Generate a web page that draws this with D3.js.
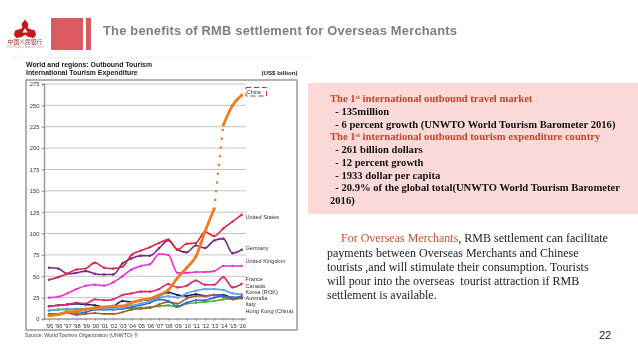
<!DOCTYPE html>
<html><head><meta charset="utf-8">
<script src="https://cdn.jsdelivr.net/npm/d3@7/dist/d3.min.js"></script>
<style>html,body{margin:0;padding:0;background:#fff;overflow:hidden}svg{display:block}</style>
</head><body><svg id="c" width="638" height="359"></svg>
<script>
const years = ["'95","'96","'97","'98","'99","'00","'01","'02","'03","'04","'05","'06","'07","'08","'09","'10","'11","'12","'13","'14","'15","'16"];
const yTicks = [0,25,50,75,100,125,150,175,200,225,250,275];
const china = [4,5,8,9,11,13,14,15,15,19,22,24,28,34,48,60,73,102,129,227,250,262];
const unitedStates = [46,49,53,58,59,66,60,59,61,75,80,84,89,93,81,88,89,102,97,106,114,122];
const germany = [60,59,53,54,56,53,52,52,65,71,74,74,83,92,81,78,86,83,92,94,77,81];
const unitedKingdom = [25,26,30,35,39,40,39,43,50,58,62,64,76,75,54,54,55,55,56,62,62,62];
const france = [15,16,17,19,18,23,22,23,28,30,32,32,35,41,37,39,45,40,40,49,37,41];
const canada = [10,11,12,11,12,12,12,12,13,16,18,21,25,27,25,30,33,35,35,34,30,29];
const korea = [6,6,8,7,8,11,11,11,12,14,16,19,23,21,15,19,22,22,25,27,25,27];
const australia = [5,5,7,5,6,7,6,6,8,11,12,13,17,20,18,24,27,27,28,26,23,25];
const italy = [15,16,17,18,17,16,14,15,21,20,22,23,27,31,28,27,29,27,28,28,25,25];
const hongKong = [10,11,11,12,12,13,13,13,12,13,13,14,15,16,14,18,19,20,21,23,24,24];
const seriesNames = ["Hong Kong (China)","Italy","Australia","Korea (ROK)","Canada","France","United Kingdom","Germany","United States"];
const seriesValues = [hongKong,italy,australia,korea,canada,france,unitedKingdom,germany,unitedStates];
const seriesColors = ["#5fa82c","#141e5c","#a0622f","#2f6cd0","#62a2e4","#dc2a68","#f02fd0","#74288f","#d82a3e"];
const labelNames = ["United States","Germany","United Kingdom","France","Canada","Korea (ROK)","Australia","Italy","Hong Kong (China)"];
const labelY = [218.5,250,262.5,281,287.5,294,300,306,312.5];
const box1 = [
 [["The 1",0],["st",1],[" international outbound travel market",0]],
 [["  - 135million",2]],
 [["  - 6 percent growth (UNWTO World Tourism Barometer 2016)",2]],
 [["The 1",0],["st",1],[" international outbound tourism expenditure country",0]],
 [["  - 261 billion dollars",2]],
 [["  - 12 percent growth",2]],
 [["  - 1933 dollar per capita",2]],
 [["  - 20.9% of the global total(UNWTO World Tourism Barometer",2]],
 [["2016)",2]]
];
const body = ["payments between Overseas Merchants and Chinese","tourists ,and will stimulate their consumption. Tourists","will pour into the overseas  tourist attraction if RMB","settlement is available."];

const svg = d3.select("#c");
const defs = svg.append("defs");
defs.append("filter").attr("id","b").append("feGaussianBlur").attr("stdDeviation",0.45);
defs.append("filter").attr("id","s").append("feGaussianBlur").attr("stdDeviation",0.25);
const sans = "'Liberation Sans',Arial,sans-serif", serif = "'Liberation Serif',serif";

// header
svg.append("rect").attr("x",51).attr("y",18).attr("width",32).attr("height",32).attr("fill","#dc5a5f");
svg.append("rect").attr("x",86).attr("y",18).attr("width",5).attr("height",32).attr("fill","#dc5a5f");
svg.append("text").attr("x",103).attr("y",35).attr("font-family",sans).attr("font-weight","bold").attr("font-size",12.9).attr("fill","#7f7f7f").attr("filter","url(#s)").attr("textLength",354).text("The benefits of RMB settlement for Overseas Merchants");
svg.append("line").attr("x1",13).attr("x2",308).attr("y1",57.5).attr("y2",57.5).attr("stroke","#f2f2f2");
const logo = svg.append("g").attr("transform","translate(25,31.5) scale(1.1)").attr("fill","#c8161d").attr("filter","url(#s)");
logo.append("path").attr("fill-rule","evenodd").attr("d","M0,-11 L3,-7 L2.5,-3 L5,-2 L9,-1 L10,3 L8,6 L3,5 L0,3 L-3,5 L-8,6 L-10,3 L-9,-1 L-5,-2 L-2.5,-3 L-3,-7 Z M0,-3 L-2.5,1 L2.5,1 Z");
svg.append("text").attr("x",25).attr("y",44).attr("text-anchor","middle").attr("font-family","'Noto Sans CJK SC'").attr("font-size",5.8).attr("fill","#a03030").attr("filter","url(#s)").text("中国人民银行");
svg.append("text").attr("x",25).attr("y",47.5).attr("text-anchor","middle").attr("font-family",sans).attr("font-size",3).attr("fill","#aaa").attr("filter","url(#s)").text("The People's Bank of China");

// chart
const x = d3.scalePoint().domain(years).range([49,241.7]);
const y = d3.scaleLinear().domain([0,275]).range([319,84]);
const g = svg.append("g").attr("filter","url(#b)");
g.append("rect").attr("x",26).attr("y",80).attr("width",271).attr("height",250).attr("fill","#fff").attr("stroke","#999").attr("stroke-width",1.5);
g.append("text").attr("x",26).attr("y",66.5).attr("font-family",sans).attr("font-weight","bold").attr("font-size",6.9).attr("fill","#222").text("World and regions: Outbound Tourism");
g.append("text").attr("x",26).attr("y",74.5).attr("font-family",sans).attr("font-weight","bold").attr("font-size",6.9).attr("fill","#222").text("International Tourism Expenditure");
g.append("text").attr("x",297.5).attr("y",74.5).attr("text-anchor","end").attr("font-family",sans).attr("font-weight","bold").attr("font-size",6.2).attr("fill","#222").text("(US$ billion)");
g.append("text").attr("x",25).attr("y",337).attr("font-family",sans).attr("font-size",5.2).attr("fill","#444").text("Source: World Tourism Organization (UNWTO) ®");

g.selectAll("line.grid").data(yTicks).join("line").attr("class","grid")
 .attr("x1",44).attr("x2",246).attr("y1",d=>y(d)).attr("y2",d=>y(d)).attr("stroke","#c4c4c4").attr("stroke-width",1);
const axL = g.append("g").attr("transform","translate(44,0)").call(d3.axisLeft(y).tickValues(yTicks).tickSize(2).tickPadding(2.5));
axL.select(".domain").attr("stroke","#999").attr("stroke-width",1.4);
axL.selectAll(".tick line").attr("stroke","#777");
axL.selectAll("text").attr("font-family",sans).attr("font-size",5.8).attr("fill","#333");
const axB = g.append("g").attr("transform","translate(0,319)").call(d3.axisBottom(x).tickSize(1.5).tickPadding(3.5));
axB.select(".domain").attr("d","M44,0H246").attr("stroke","#888").attr("stroke-width",1);
axB.selectAll(".tick line").attr("stroke","#777");
axB.selectAll("text").attr("font-family",sans).attr("font-size",5.8).attr("fill","#333");

const line = d3.line().x((d,i)=>x(years[i])).y(d=>y(d)).curve(d3.curveMonotoneX);
seriesValues.forEach((vals,k)=>{
  const s = g.append("g");
  s.append("path").attr("d",line(vals)).attr("fill","none").attr("stroke",seriesColors[k]).attr("stroke-width",1.6);
  s.selectAll("circle").data(vals).join("circle").attr("cx",(d,i)=>x(years[i])).attr("cy",d=>y(d)).attr("r",1.2).attr("fill",seriesColors[k]);
});
// China: solid up to '13, dotted to '14, solid afterwards
const seg = d3.line().x(d=>x(d.k)).y(d=>y(d.v));
const chinaPts = years.map((k,i)=>({k,v:china[i]}));
const smooth = d3.line().x(d=>x(d.k)).y(d=>y(d.v)).curve(d3.curveMonotoneX);
g.append("path").attr("d",smooth(chinaPts.slice(0,19))).attr("fill","none").attr("stroke","#ee7d22").attr("stroke-width",2.8);
g.append("path").attr("d",seg(chinaPts.slice(18,20))).attr("fill","none").attr("stroke","#ee7d22").attr("stroke-width",2.6).attr("stroke-dasharray","0 8.8").attr("stroke-linecap","round");
g.append("path").attr("d",smooth(chinaPts.slice(19))).attr("fill","none").attr("stroke","#ee7d22").attr("stroke-width",2.8);
g.selectAll("circle.cn").data(chinaPts).join("circle").attr("class","cn").attr("cx",d=>x(d.k)).attr("cy",d=>y(d.v)).attr("r",1.6).attr("fill","#ee7d22");

g.selectAll("text.lab").data(labelNames).join("text").attr("class","lab").attr("x",245.5).attr("y",(d,i)=>labelY[i]).attr("font-family",sans).attr("font-size",5.6).attr("fill","#333").text(d=>d);
g.append("text").attr("x",247).attr("y",94).attr("font-family",sans).attr("font-size",5.2).attr("fill","#333").text("China");
g.append("rect").attr("x",246).attr("y",87.5).attr("width",20.5).attr("height",8.5).attr("fill","none").attr("stroke","#c0393b").attr("stroke-width",1).attr("stroke-dasharray","5 3");

// pink box
svg.append("rect").attr("x",308).attr("y",83).attr("width",330).attr("height",131).attr("fill","#fcd9d9");
const bt = svg.append("g").attr("font-family",serif).attr("font-weight","bold").attr("font-size",10.6).attr("filter","url(#s)");
box1.forEach((runs,i)=>{
  const t = bt.append("text").attr("x",330).attr("y",102+i*12.75).style("white-space","pre");
  runs.forEach(r=>{
    const sp = t.append("tspan").text(r[0]).attr("fill",r[1]==2?"#111":"#c0472a");
    if(r[1]==1) sp.attr("font-size",6).attr("dy",-3);
    else if(runs.length>1 && r[0][0]==" ") sp.attr("dy",3);
  });
});
// body text
const bodyG = svg.append("g").attr("filter","url(#s)");
const tt = bodyG.append("text").attr("x",341).attr("y",241.5).attr("font-family",serif).attr("font-size",12);
tt.append("tspan").attr("fill","#c0532f").text("For Overseas Merchants");
tt.append("tspan").attr("fill","#222").text(", RMB settlement can facilitate");
bodyG.selectAll("text.body").data(body).join("text").attr("class","body").attr("x",327).attr("y",(d,i)=>256.5+i*14.3)
  .attr("font-family",serif).attr("font-size",12).attr("fill","#222").style("white-space","pre").text(d=>d);
svg.append("text").attr("x",599).attr("y",339).attr("font-family",sans).attr("font-size",11).attr("fill","#222").text("22");
</script></body></html>
